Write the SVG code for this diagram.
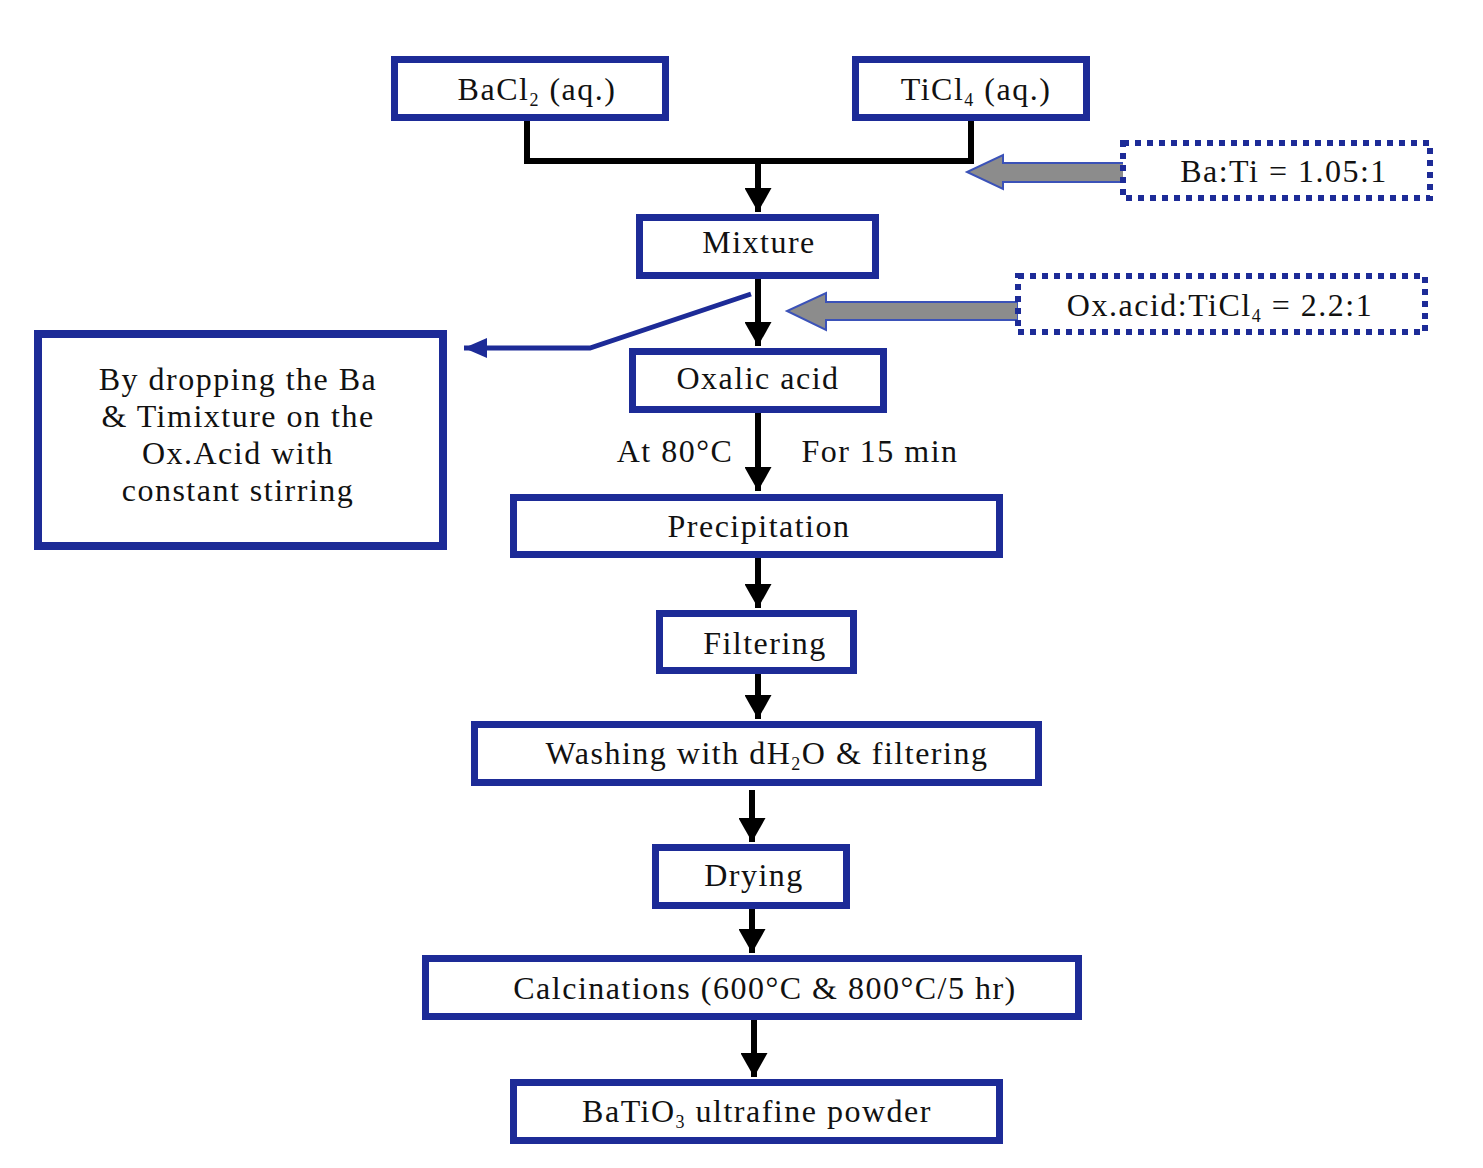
<svg xmlns="http://www.w3.org/2000/svg" width="1483" height="1168" viewBox="0 0 1483 1168">
<style>
.box{fill:#fff;stroke:#1d2b97;stroke-width:7}
.dot{fill:#fff;stroke:#1d2b97;stroke-width:6;stroke-dasharray:6 6}
.t{font-family:"Liberation Serif","Times New Roman",serif;font-size:32px;fill:#111;text-anchor:middle;letter-spacing:1.5px}
.s{font-size:18px}
.c{stroke:#000;stroke-width:6;fill:none}
.blk{fill:#8c8c8c;stroke:#3b52b8;stroke-width:2}
</style>
<defs>
<marker id="ah" markerWidth="4.5" markerHeight="4.5" refX="4" refY="2.25" orient="auto" markerUnits="strokeWidth"><path d="M0,0 L4,2.25 L0,4.5 Z" fill="#000"/></marker>
<marker id="bh" markerWidth="5" markerHeight="4" refX="4.6" refY="2" orient="auto" markerUnits="strokeWidth"><path d="M0,0 L4.6,2 L0,4 Z" fill="#1d2b97"/></marker>
</defs>
<rect width="1483" height="1168" fill="#fff"/>
<g id="connectors">
<path class="c" d="M527,121 V161 H971 V121" stroke-linejoin="miter"/>
<line class="c" x1="758" y1="161" x2="758" y2="212" marker-end="url(#ah)"/>
<line class="c" x1="758" y1="279" x2="758" y2="346" marker-end="url(#ah)"/>
<line class="c" x1="758" y1="413" x2="758" y2="491" marker-end="url(#ah)"/>
<line class="c" x1="758" y1="558" x2="758" y2="608" marker-end="url(#ah)"/>
<line class="c" x1="758" y1="674" x2="758" y2="719" marker-end="url(#ah)"/>
<line class="c" x1="752" y1="790" x2="752" y2="842" marker-end="url(#ah)"/>
<line class="c" x1="752" y1="909" x2="752" y2="953" marker-end="url(#ah)"/>
<line class="c" x1="754" y1="1020" x2="754" y2="1077" marker-end="url(#ah)"/>
<polyline points="751,294 590,348 464,348" fill="none" stroke="#1d2b97" stroke-width="5" marker-end="url(#bh)"/>
<path class="blk" d="M1127,163 H1003 V155 L967,172 L1003,189 V182 H1127 Z"/>
<path class="blk" d="M1018,302 H826 V293 L787,311 L826,330 V320 H1018 Z"/>
</g>
<g id="bacl2"><rect class="box" x="394.5" y="59.5" width="271" height="58"/><text class="t" x="537" y="100">BaCl<tspan class="s" dy="6">2</tspan><tspan dy="-6"> (aq.)</tspan></text></g>
<g id="ticl4"><rect class="box" x="855.5" y="59.5" width="231" height="58"/><text class="t" x="976" y="100">TiCl<tspan class="s" dy="6">4</tspan><tspan dy="-6"> (aq.)</tspan></text></g>
<g id="ratio1"><rect class="dot" x="1123" y="143" width="307" height="55"/><text class="t" x="1284" y="182">Ba:Ti = 1.05:1</text></g>
<g id="mixture"><rect class="box" x="639.5" y="217.5" width="236" height="58"/><text class="t" x="759" y="253">Mixture</text></g>
<g id="ratio2"><rect class="dot" x="1018" y="276" width="407" height="56"/><text class="t" x="1220" y="316">Ox.acid:TiCl<tspan class="s" dy="6">4</tspan><tspan dy="-6"> = 2.2:1</tspan></text></g>
<g id="note"><rect x="38" y="334" width="405" height="212" fill="#fff" stroke="#1d2b97" stroke-width="8"/>
<text class="t" x="238" y="390">By dropping the Ba</text>
<text class="t" x="238" y="427">&amp; Timixture on the</text>
<text class="t" x="238" y="464">Ox.Acid with</text>
<text class="t" x="238" y="501">constant stirring</text></g>
<g id="oxalic"><rect class="box" x="632.5" y="351.5" width="251" height="58"/><text class="t" x="758" y="389">Oxalic acid</text></g>
<g id="cond"><text class="t" x="675" y="462">At 80°C</text><text class="t" x="880" y="462">For 15 min</text></g>
<g id="precip"><rect class="box" x="513.5" y="497.5" width="486" height="57"/><text class="t" x="759" y="537">Precipitation</text></g>
<g id="filter"><rect class="box" x="659.5" y="613.5" width="194" height="57"/><text class="t" x="765" y="654">Filtering</text></g>
<g id="wash"><rect class="box" x="474.5" y="724.5" width="564" height="58"/><text class="t" x="767" y="764">Washing with dH<tspan class="s" dy="6">2</tspan><tspan dy="-6">O &amp; filtering</tspan></text></g>
<g id="dry"><rect class="box" x="655.5" y="847.5" width="191" height="58"/><text class="t" x="754" y="886">Drying</text></g>
<g id="calc"><rect class="box" x="425.5" y="958.5" width="653" height="58"/><text class="t" x="765" y="999">Calcinations (600°C &amp; 800°C/5 hr)</text></g>
<g id="product"><rect class="box" x="513.5" y="1082.5" width="486" height="58"/><text class="t" x="757" y="1122">BaTiO<tspan class="s" dy="6">3</tspan><tspan dy="-6"> ultrafine powder</tspan></text></g>
</svg>
